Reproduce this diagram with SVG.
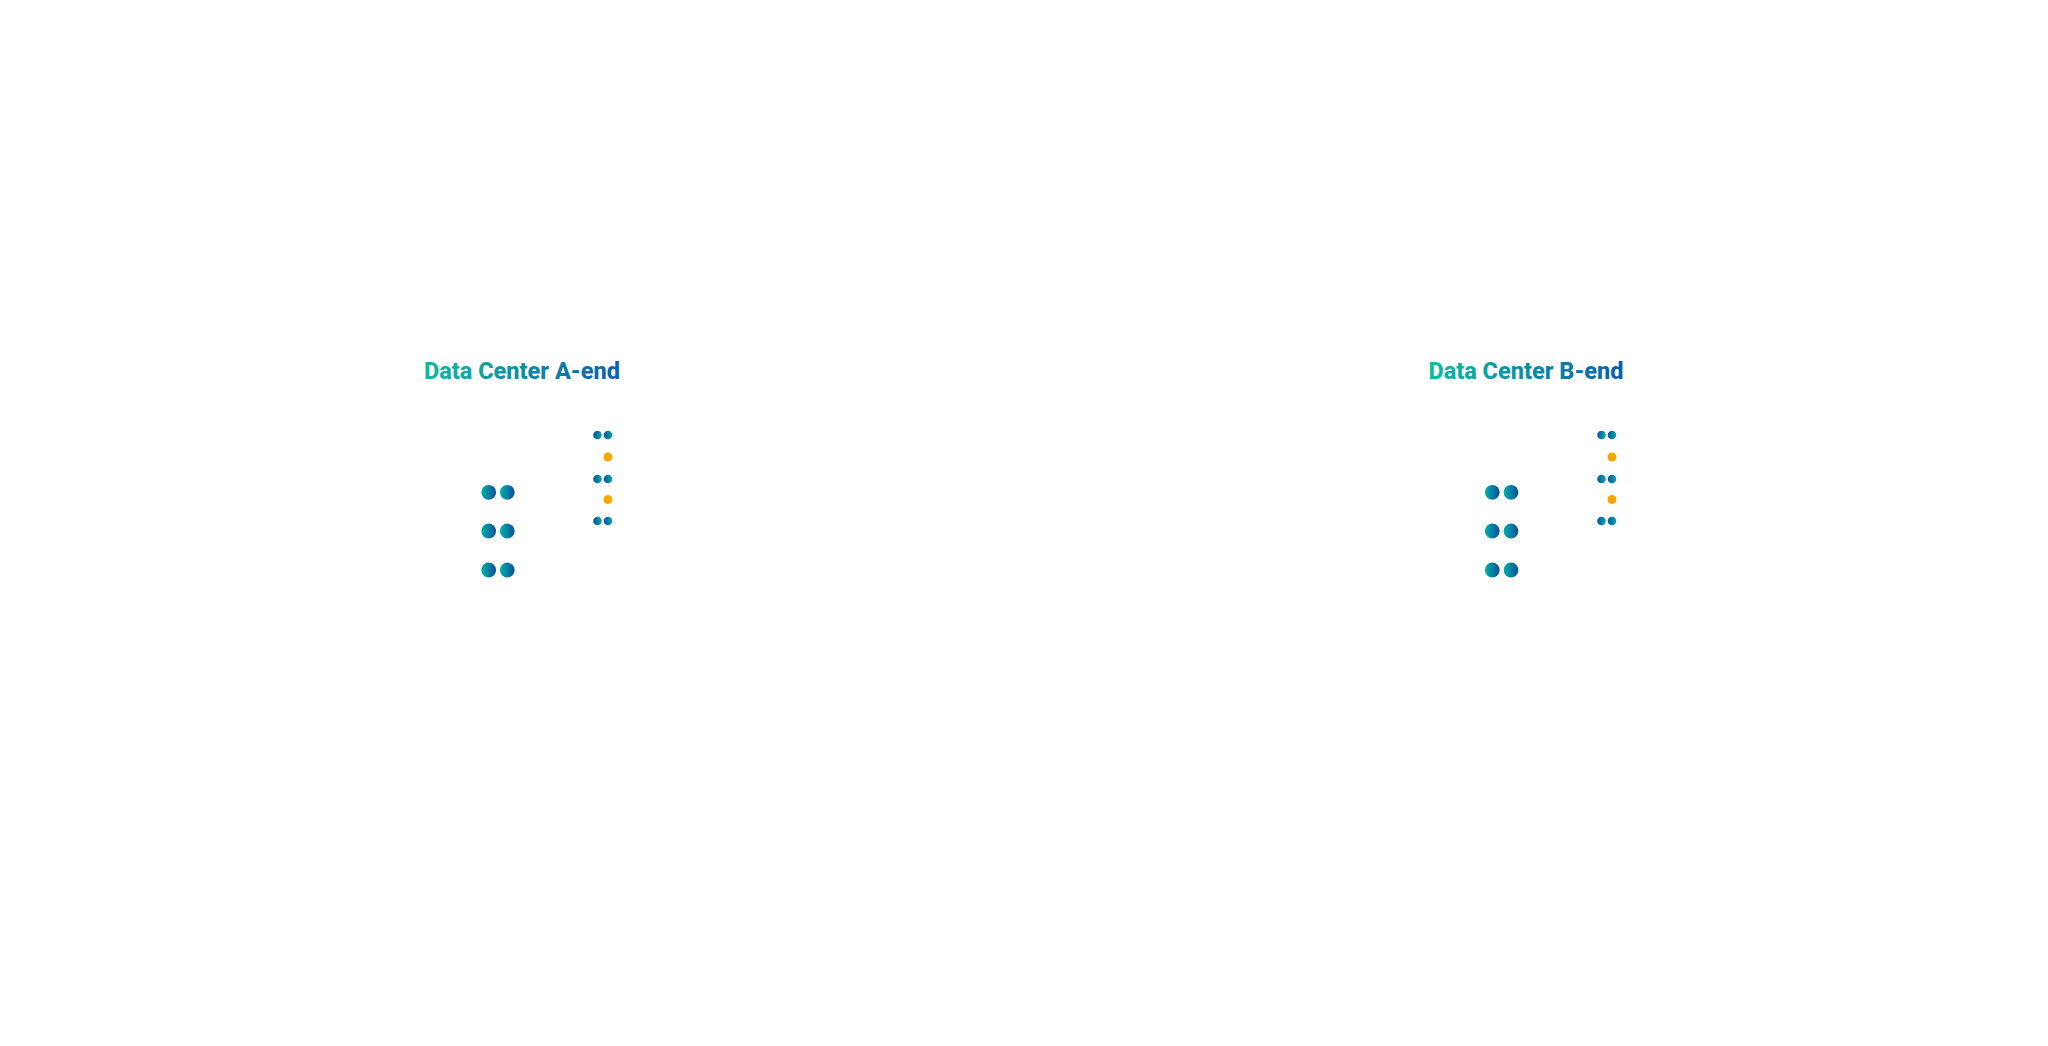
<svg xmlns="http://www.w3.org/2000/svg" width="2048" height="1046" viewBox="0 0 2048 1046">
<defs>
<linearGradient id="tg" x1="0" y1="0" x2="1" y2="0"><stop offset="0" stop-color="#10bba2"/><stop offset="1" stop-color="#0a5fab"/></linearGradient>
<linearGradient id="bg" x1="0" y1="0" x2="1" y2="0"><stop offset="0" stop-color="#00b2a8"/><stop offset="1" stop-color="#0a4f9e"/></linearGradient>
<linearGradient id="sg" x1="0" y1="0" x2="1" y2="0"><stop offset="0" stop-color="#0a559c"/><stop offset="1" stop-color="#07a7aa"/></linearGradient>
</defs>
<style>
.t{font-family:Roboto,"Liberation Sans",sans-serif;font-weight:800;font-size:23.5px;text-anchor:middle}
.b{fill:url(#bg)}
.s{fill:url(#sg)}
.o{fill:#f7a800}
</style>
<rect width="2048" height="1046" fill="#ffffff"/>
<g id="dc-a">
<text class="t" x="522" y="379" fill="url(#tg)">Data Center A-end</text>
<circle class="b" cx="488.7" cy="492.3" r="7.4"/><circle class="b" cx="507.3" cy="492.3" r="7.4"/>
<circle class="b" cx="488.7" cy="531" r="7.4"/><circle class="b" cx="507.3" cy="531" r="7.4"/>
<circle class="b" cx="488.7" cy="570" r="7.4"/><circle class="b" cx="507.3" cy="570" r="7.4"/>
<circle class="s" cx="597.5" cy="435" r="4.3"/><circle class="s" cx="608" cy="435" r="4.3"/>
<circle class="o" cx="608" cy="457" r="4.5"/>
<circle class="s" cx="597.5" cy="479" r="4.3"/><circle class="s" cx="608" cy="479" r="4.3"/>
<circle class="o" cx="608" cy="499.5" r="4.5"/>
<circle class="s" cx="597.5" cy="521" r="4.3"/><circle class="s" cx="608" cy="521" r="4.3"/>
</g>
<g id="dc-b">
<text class="t" x="1526" y="379" fill="url(#tg)">Data Center B-end</text>
<circle class="b" cx="1492.3" cy="492.3" r="7.4"/><circle class="b" cx="1511" cy="492.3" r="7.4"/>
<circle class="b" cx="1492.3" cy="531" r="7.4"/><circle class="b" cx="1511" cy="531" r="7.4"/>
<circle class="b" cx="1492.3" cy="570" r="7.4"/><circle class="b" cx="1511" cy="570" r="7.4"/>
<circle class="s" cx="1601.5" cy="435" r="4.3"/><circle class="s" cx="1612" cy="435" r="4.3"/>
<circle class="o" cx="1612" cy="457" r="4.5"/>
<circle class="s" cx="1601.5" cy="479" r="4.3"/><circle class="s" cx="1612" cy="479" r="4.3"/>
<circle class="o" cx="1612" cy="499.5" r="4.5"/>
<circle class="s" cx="1601.5" cy="521" r="4.3"/><circle class="s" cx="1612" cy="521" r="4.3"/>
</g>
<g id="connectors"/>
</svg>
